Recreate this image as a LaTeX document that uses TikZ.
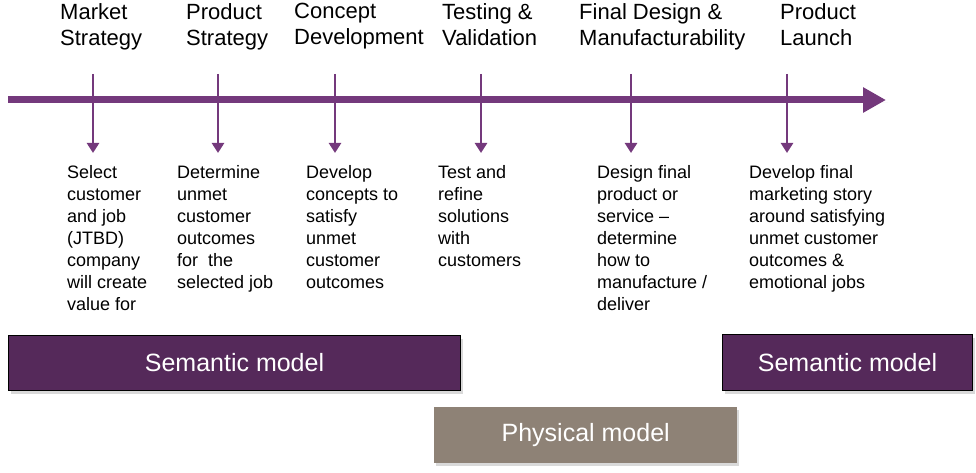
\documentclass[tikz,border=0pt]{standalone}
\usepackage{fontspec}
\setmainfont{Liberation Sans}
\usetikzlibrary{arrows.meta,shadows}
\definecolor{arrowpurple}{HTML}{74397C}
\definecolor{boxpurple}{HTML}{55295A}
\definecolor{boxbrown}{HTML}{8E8276}
\tikzset{
  title/.style={anchor=north west,inner sep=0pt,align=left,font=\fontsize{22}{26}\selectfont},
  desc/.style={anchor=north west,inner sep=0pt,align=left,font=\fontsize{18}{22}\selectfont},
  tick/.style={draw=arrowpurple,line width=2.6pt,-{Triangle[length=10pt,width=12pt]}},
  mainarrow/.style={draw=arrowpurple,line width=7pt,-{Triangle[length=23pt,width=24pt]}},
  shade/.style={drop shadow={shadow xshift=2pt,shadow yshift=-3pt,opacity=0.3}},
  model/.style={anchor=north west,inner sep=0pt,text=white,font=\fontsize{25}{30}\selectfont,shade},
}
\begin{document}
\begin{tikzpicture}[x=1pt,y=-1pt]
\useasboundingbox (0,0) rectangle (976,473);
% main timeline
\coordinate (mstart) at (8,100);
\coordinate (mend) at (886,100);
\draw[mainarrow,shade] (mstart) -- (mend);
% titles
\node[title] (t1) at (60,3) {Market\\Strategy};
\node[title] (t2) at (186,3) {Product\\Strategy};
\node[title] (t3) at (294,3) {Concept\\Development};
\node[title] (t4) at (442,3) {Testing \&\\Validation};
\node[title] (t5) at (579,3) {Final Design \&\\Manufacturability};
\node[title] (t6) at (780,3) {Product\\Launch};
% ticks
\foreach \i/\x in {1/93,2/218,3/335,4/481,5/631,6/787}{
  \coordinate (a\i) at (\x,74);
  \coordinate (b\i) at (\x,153);
  \draw[tick] (a\i) -- (b\i);
}
% descriptions
\node[desc] (d1) at (67,165) {Select\\customer\\and job\\(JTBD)\\company\\will create\\value for};
\node[desc] (d2) at (177,165) {Determine\\unmet\\customer\\outcomes\\for\ \ the\\selected job};
\node[desc] (d3) at (306,165) {Develop\\concepts to\\satisfy\\unmet\\customer\\outcomes};
\node[desc] (d4) at (438,165) {Test and\\refine\\solutions\\with\\customers};
\node[desc] (d5) at (597,165) {Design final\\product or\\service --\\determine\\how to\\manufacture /\\deliver};
\node[desc] (d6) at (749,165) {Develop final\\marketing story\\around satisfying\\unmet customer\\outcomes \&\\emotional jobs};
% model boxes
\node[model,fill=boxpurple,draw=black,line width=1pt,minimum width=452pt,minimum height=55pt] (s1) at (8,335) {Semantic model};
\node[model,fill=boxpurple,draw=black,line width=1pt,minimum width=250pt,minimum height=56pt] (s2) at (722,334) {Semantic model};
\node[model,fill=boxbrown,minimum width=303pt,minimum height=56pt] (p1) at (434,407) {Physical model};
\end{tikzpicture}
\end{document}
